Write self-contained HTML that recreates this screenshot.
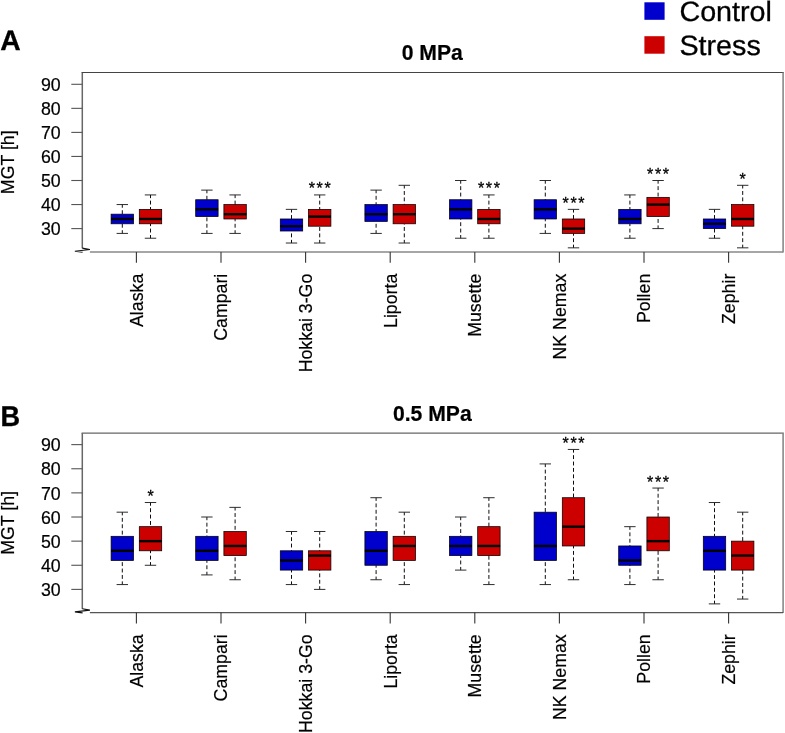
<!DOCTYPE html>
<html lang="en">
<head>
<meta charset="utf-8">
<title>MGT boxplots</title>
<style>
html,body{margin:0;padding:0;background:#fff;}
body{width:785px;height:733px;overflow:hidden;font-family:"Liberation Sans",Arial,sans-serif;}
svg{display:block;}
</style>
</head>
<body>
<svg width="785" height="733" viewBox="0 0 785 733" font-family="'Liberation Sans', Arial, sans-serif" fill="#000">
<rect width="785" height="733" fill="#fff"/>
<rect x="644.4" y="2.3" width="20.2" height="17.5" fill="#0000cd"/>
<rect x="644.4" y="36.2" width="20.2" height="17.5" fill="#cd0000"/>
<text transform="translate(679.4 21.4) scale(1.025 1)" font-size="28" stroke="#000" stroke-width="0.3" text-rendering="geometricPrecision">Control</text>
<text transform="translate(679.4 55.2) scale(1.025 1)" font-size="28" stroke="#000" stroke-width="0.3" text-rendering="geometricPrecision">Stress</text>
<path d="M82.3 248.3V72.5" fill="none" stroke="#666" stroke-width="1.5"/>
<path d="M81.6 72.5H783.8" fill="none" stroke="#444" stroke-width="1.2"/>
<path d="M783.1 72.5V252.5" fill="none" stroke="#888" stroke-width="1.6"/>
<path d="M783.1 252H89.9" fill="none" stroke="#888" stroke-width="1.6"/>
<path d="M82.3 248.1L89.9 249.5L74.9 251.3L82.6 252.3" fill="none" stroke="#111" stroke-width="1.1" stroke-linejoin="miter"/>
<line x1="71.3" x2="82.3" y1="228.6" y2="228.6" stroke="#555" stroke-width="1.1"/>
<text x="60.7" y="235.3" text-anchor="end" font-size="17.75" stroke="#000" stroke-width="0.2">30</text>
<line x1="71.3" x2="82.3" y1="204.55" y2="204.55" stroke="#555" stroke-width="1.1"/>
<text x="60.7" y="211.25" text-anchor="end" font-size="17.75" stroke="#000" stroke-width="0.2">40</text>
<line x1="71.3" x2="82.3" y1="180.5" y2="180.5" stroke="#555" stroke-width="1.1"/>
<text x="60.7" y="187.2" text-anchor="end" font-size="17.75" stroke="#000" stroke-width="0.2">50</text>
<line x1="71.3" x2="82.3" y1="156.45" y2="156.45" stroke="#555" stroke-width="1.1"/>
<text x="60.7" y="163.15" text-anchor="end" font-size="17.75" stroke="#000" stroke-width="0.2">60</text>
<line x1="71.3" x2="82.3" y1="132.4" y2="132.4" stroke="#555" stroke-width="1.1"/>
<text x="60.7" y="139.1" text-anchor="end" font-size="17.75" stroke="#000" stroke-width="0.2">70</text>
<line x1="71.3" x2="82.3" y1="108.35" y2="108.35" stroke="#555" stroke-width="1.1"/>
<text x="60.7" y="115.05" text-anchor="end" font-size="17.75" stroke="#000" stroke-width="0.2">80</text>
<line x1="71.3" x2="82.3" y1="84.3" y2="84.3" stroke="#555" stroke-width="1.1"/>
<text x="60.7" y="91" text-anchor="end" font-size="17.75" stroke="#000" stroke-width="0.2">90</text>
<text transform="translate(14.0 162.25) rotate(-90)" text-anchor="middle" font-size="17.75" stroke="#000" stroke-width="0.2">MGT [h]</text>
<text x="432.3" y="60.4" text-anchor="middle" font-size="21.15" font-weight="bold" stroke="#000" stroke-width="0.2">0 MPa</text>
<text transform="translate(0.2 50) scale(1.0 1)" font-size="28.3" font-weight="bold" stroke="#000" stroke-width="0.3" text-rendering="geometricPrecision">A</text>
<line x1="136.4" x2="136.4" y1="252" y2="262.8" stroke="#333" stroke-width="1.1"/>
<text transform="translate(142.8 273.7) rotate(-90)" text-anchor="end" font-size="17.75" stroke="#000" stroke-width="0.2">Alaska</text>
<line x1="221" x2="221" y1="252" y2="262.8" stroke="#333" stroke-width="1.1"/>
<text transform="translate(227.4 273.7) rotate(-90)" text-anchor="end" font-size="17.75" stroke="#000" stroke-width="0.2">Campari</text>
<line x1="305.6" x2="305.6" y1="252" y2="262.8" stroke="#333" stroke-width="1.1"/>
<text transform="translate(312 273.7) rotate(-90)" text-anchor="end" font-size="17.75" stroke="#000" stroke-width="0.2">Hokkai 3-Go</text>
<line x1="390.2" x2="390.2" y1="252" y2="262.8" stroke="#333" stroke-width="1.1"/>
<text transform="translate(396.6 273.7) rotate(-90)" text-anchor="end" font-size="17.75" stroke="#000" stroke-width="0.2">Liporta</text>
<line x1="474.8" x2="474.8" y1="252" y2="262.8" stroke="#333" stroke-width="1.1"/>
<text transform="translate(481.2 273.7) rotate(-90)" text-anchor="end" font-size="17.75" stroke="#000" stroke-width="0.2">Musette</text>
<line x1="559.4" x2="559.4" y1="252" y2="262.8" stroke="#333" stroke-width="1.1"/>
<text transform="translate(565.8 273.7) rotate(-90)" text-anchor="end" font-size="17.75" stroke="#000" stroke-width="0.2">NK Nemax</text>
<line x1="644" x2="644" y1="252" y2="262.8" stroke="#333" stroke-width="1.1"/>
<text transform="translate(650.4 273.7) rotate(-90)" text-anchor="end" font-size="17.75" stroke="#000" stroke-width="0.2">Pollen</text>
<line x1="728.6" x2="728.6" y1="252" y2="262.8" stroke="#333" stroke-width="1.1"/>
<text transform="translate(735 273.7) rotate(-90)" text-anchor="end" font-size="17.75" stroke="#000" stroke-width="0.2">Zephir</text>
<path d="M122.3 204.55V214.17M122.3 233.41V223.79" stroke="#000" stroke-width="0.95" stroke-dasharray="3.9 2.5" stroke-dashoffset="0.7" fill="none"/>
<path d="M116.6 204.55h11.4M116.6 233.41h11.4" stroke="#222" stroke-width="0.95" fill="none"/>
<rect x="111.1" y="214.17" width="22.4" height="9.62" fill="#0000cd" stroke="#000" stroke-width="0.75"/>
<line x1="111.1" x2="133.5" y1="218.98" y2="218.98" stroke="#000" stroke-width="2.4"/>
<path d="M150.5 194.93V209.36M150.5 238.22V223.79" stroke="#000" stroke-width="0.95" stroke-dasharray="3.9 2.5" stroke-dashoffset="0.7" fill="none"/>
<path d="M144.8 194.93h11.4M144.8 238.22h11.4" stroke="#222" stroke-width="0.95" fill="none"/>
<rect x="139.3" y="209.36" width="22.4" height="14.43" fill="#cd0000" stroke="#000" stroke-width="0.75"/>
<line x1="139.3" x2="161.7" y1="218.98" y2="218.98" stroke="#000" stroke-width="2.4"/>
<path d="M206.9 190.12V199.74M206.9 233.41V216.57" stroke="#000" stroke-width="0.95" stroke-dasharray="3.9 2.5" stroke-dashoffset="0.7" fill="none"/>
<path d="M201.2 190.12h11.4M201.2 233.41h11.4" stroke="#222" stroke-width="0.95" fill="none"/>
<rect x="195.7" y="199.74" width="22.4" height="16.83" fill="#0000cd" stroke="#000" stroke-width="0.75"/>
<line x1="195.7" x2="218.1" y1="209.36" y2="209.36" stroke="#000" stroke-width="2.4"/>
<path d="M235.1 194.93V204.55M235.1 233.41V218.98" stroke="#000" stroke-width="0.95" stroke-dasharray="3.9 2.5" stroke-dashoffset="0.7" fill="none"/>
<path d="M229.4 194.93h11.4M229.4 233.41h11.4" stroke="#222" stroke-width="0.95" fill="none"/>
<rect x="223.9" y="204.55" width="22.4" height="14.43" fill="#cd0000" stroke="#000" stroke-width="0.75"/>
<line x1="223.9" x2="246.3" y1="214.17" y2="214.17" stroke="#000" stroke-width="2.4"/>
<path d="M291.5 209.36V218.98M291.5 243.03V231" stroke="#000" stroke-width="0.95" stroke-dasharray="3.9 2.5" stroke-dashoffset="0.7" fill="none"/>
<path d="M285.8 209.36h11.4M285.8 243.03h11.4" stroke="#222" stroke-width="0.95" fill="none"/>
<rect x="280.3" y="218.98" width="22.4" height="12.03" fill="#0000cd" stroke="#000" stroke-width="0.75"/>
<line x1="280.3" x2="302.7" y1="226.19" y2="226.19" stroke="#000" stroke-width="2.4"/>
<path d="M319.7 194.93V209.36M319.7 243.03V226.19" stroke="#000" stroke-width="0.95" stroke-dasharray="3.9 2.5" stroke-dashoffset="0.7" fill="none"/>
<path d="M314 194.93h11.4M314 243.03h11.4" stroke="#222" stroke-width="0.95" fill="none"/>
<rect x="308.5" y="209.36" width="22.4" height="16.84" fill="#cd0000" stroke="#000" stroke-width="0.75"/>
<line x1="308.5" x2="330.9" y1="216.57" y2="216.57" stroke="#000" stroke-width="2.4"/>
<text x="311.83 319.7 327.57" y="194.38" text-anchor="middle" font-size="16.0" stroke="#000" stroke-width="0.3">***</text>
<path d="M376.1 190.12V204.55M376.1 233.41V221.38" stroke="#000" stroke-width="0.95" stroke-dasharray="3.9 2.5" stroke-dashoffset="0.7" fill="none"/>
<path d="M370.4 190.12h11.4M370.4 233.41h11.4" stroke="#222" stroke-width="0.95" fill="none"/>
<rect x="364.9" y="204.55" width="22.4" height="16.83" fill="#0000cd" stroke="#000" stroke-width="0.75"/>
<line x1="364.9" x2="387.3" y1="214.17" y2="214.17" stroke="#000" stroke-width="2.4"/>
<path d="M404.3 185.31V204.55M404.3 243.03V223.79" stroke="#000" stroke-width="0.95" stroke-dasharray="3.9 2.5" stroke-dashoffset="0.7" fill="none"/>
<path d="M398.6 185.31h11.4M398.6 243.03h11.4" stroke="#222" stroke-width="0.95" fill="none"/>
<rect x="393.1" y="204.55" width="22.4" height="19.24" fill="#cd0000" stroke="#000" stroke-width="0.75"/>
<line x1="393.1" x2="415.5" y1="214.17" y2="214.17" stroke="#000" stroke-width="2.4"/>
<path d="M460.7 180.5V199.74M460.7 238.22V218.98" stroke="#000" stroke-width="0.95" stroke-dasharray="3.9 2.5" stroke-dashoffset="0.7" fill="none"/>
<path d="M455 180.5h11.4M455 238.22h11.4" stroke="#222" stroke-width="0.95" fill="none"/>
<rect x="449.5" y="199.74" width="22.4" height="19.24" fill="#0000cd" stroke="#000" stroke-width="0.75"/>
<line x1="449.5" x2="471.9" y1="209.36" y2="209.36" stroke="#000" stroke-width="2.4"/>
<path d="M488.9 194.93V209.36M488.9 238.22V223.79" stroke="#000" stroke-width="0.95" stroke-dasharray="3.9 2.5" stroke-dashoffset="0.7" fill="none"/>
<path d="M483.2 194.93h11.4M483.2 238.22h11.4" stroke="#222" stroke-width="0.95" fill="none"/>
<rect x="477.7" y="209.36" width="22.4" height="14.43" fill="#cd0000" stroke="#000" stroke-width="0.75"/>
<line x1="477.7" x2="500.1" y1="218.98" y2="218.98" stroke="#000" stroke-width="2.4"/>
<text x="481.03 488.9 496.77" y="194.38" text-anchor="middle" font-size="16.0" stroke="#000" stroke-width="0.3">***</text>
<path d="M545.3 180.5V199.74M545.3 233.41V218.98" stroke="#000" stroke-width="0.95" stroke-dasharray="3.9 2.5" stroke-dashoffset="0.7" fill="none"/>
<path d="M539.6 180.5h11.4M539.6 233.41h11.4" stroke="#222" stroke-width="0.95" fill="none"/>
<rect x="534.1" y="199.74" width="22.4" height="19.24" fill="#0000cd" stroke="#000" stroke-width="0.75"/>
<line x1="534.1" x2="556.5" y1="209.36" y2="209.36" stroke="#000" stroke-width="2.4"/>
<path d="M573.5 209.36V218.98M573.5 247.84V233.41" stroke="#000" stroke-width="0.95" stroke-dasharray="3.9 2.5" stroke-dashoffset="0.7" fill="none"/>
<path d="M567.8 209.36h11.4M567.8 247.84h11.4" stroke="#222" stroke-width="0.95" fill="none"/>
<rect x="562.3" y="218.98" width="22.4" height="14.43" fill="#cd0000" stroke="#000" stroke-width="0.75"/>
<line x1="562.3" x2="584.7" y1="228.6" y2="228.6" stroke="#000" stroke-width="2.4"/>
<text x="565.63 573.5 581.37" y="208.81" text-anchor="middle" font-size="16.0" stroke="#000" stroke-width="0.3">***</text>
<path d="M629.9 194.93V209.36M629.9 238.22V223.79" stroke="#000" stroke-width="0.95" stroke-dasharray="3.9 2.5" stroke-dashoffset="0.7" fill="none"/>
<path d="M624.2 194.93h11.4M624.2 238.22h11.4" stroke="#222" stroke-width="0.95" fill="none"/>
<rect x="618.7" y="209.36" width="22.4" height="14.43" fill="#0000cd" stroke="#000" stroke-width="0.75"/>
<line x1="618.7" x2="641.1" y1="218.98" y2="218.98" stroke="#000" stroke-width="2.4"/>
<path d="M658.1 180.5V197.34M658.1 228.6V216.57" stroke="#000" stroke-width="0.95" stroke-dasharray="3.9 2.5" stroke-dashoffset="0.7" fill="none"/>
<path d="M652.4 180.5h11.4M652.4 228.6h11.4" stroke="#222" stroke-width="0.95" fill="none"/>
<rect x="646.9" y="197.34" width="22.4" height="19.24" fill="#cd0000" stroke="#000" stroke-width="0.75"/>
<line x1="646.9" x2="669.3" y1="204.55" y2="204.55" stroke="#000" stroke-width="2.4"/>
<text x="650.23 658.1 665.97" y="179.95" text-anchor="middle" font-size="16.0" stroke="#000" stroke-width="0.3">***</text>
<path d="M714.5 209.36V218.98M714.5 238.22V228.6" stroke="#000" stroke-width="0.95" stroke-dasharray="3.9 2.5" stroke-dashoffset="0.7" fill="none"/>
<path d="M708.8 209.36h11.4M708.8 238.22h11.4" stroke="#222" stroke-width="0.95" fill="none"/>
<rect x="703.3" y="218.98" width="22.4" height="9.62" fill="#0000cd" stroke="#000" stroke-width="0.75"/>
<line x1="703.3" x2="725.7" y1="223.79" y2="223.79" stroke="#000" stroke-width="2.4"/>
<path d="M742.7 185.31V204.55M742.7 247.84V226.19" stroke="#000" stroke-width="0.95" stroke-dasharray="3.9 2.5" stroke-dashoffset="0.7" fill="none"/>
<path d="M737 185.31h11.4M737 247.84h11.4" stroke="#222" stroke-width="0.95" fill="none"/>
<rect x="731.5" y="204.55" width="22.4" height="21.64" fill="#cd0000" stroke="#000" stroke-width="0.75"/>
<line x1="731.5" x2="753.9" y1="218.98" y2="218.98" stroke="#000" stroke-width="2.4"/>
<text x="742.7" y="184.76" text-anchor="middle" font-size="16.0" stroke="#000" stroke-width="0.3">*</text>
<path d="M82.3 608.9V433.1" fill="none" stroke="#666" stroke-width="1.5"/>
<path d="M81.6 433.1H783.8" fill="none" stroke="#666" stroke-width="1.4"/>
<path d="M783.1 433.1V613.1" fill="none" stroke="#888" stroke-width="1.6"/>
<path d="M783.1 612.6H89.9" fill="none" stroke="#555" stroke-width="1.15"/>
<path d="M82.3 608.7L89.9 610.1L74.9 611.9L82.6 612.9" fill="none" stroke="#111" stroke-width="1.1" stroke-linejoin="miter"/>
<line x1="71.3" x2="82.3" y1="589.4" y2="589.4" stroke="#555" stroke-width="1.1"/>
<text x="60.7" y="596.1" text-anchor="end" font-size="17.75" stroke="#000" stroke-width="0.2">30</text>
<line x1="71.3" x2="82.3" y1="565.27" y2="565.27" stroke="#555" stroke-width="1.1"/>
<text x="60.7" y="571.97" text-anchor="end" font-size="17.75" stroke="#000" stroke-width="0.2">40</text>
<line x1="71.3" x2="82.3" y1="541.14" y2="541.14" stroke="#555" stroke-width="1.1"/>
<text x="60.7" y="547.84" text-anchor="end" font-size="17.75" stroke="#000" stroke-width="0.2">50</text>
<line x1="71.3" x2="82.3" y1="517.01" y2="517.01" stroke="#555" stroke-width="1.1"/>
<text x="60.7" y="523.71" text-anchor="end" font-size="17.75" stroke="#000" stroke-width="0.2">60</text>
<line x1="71.3" x2="82.3" y1="492.88" y2="492.88" stroke="#555" stroke-width="1.1"/>
<text x="60.7" y="499.58" text-anchor="end" font-size="17.75" stroke="#000" stroke-width="0.2">70</text>
<line x1="71.3" x2="82.3" y1="468.75" y2="468.75" stroke="#555" stroke-width="1.1"/>
<text x="60.7" y="475.45" text-anchor="end" font-size="17.75" stroke="#000" stroke-width="0.2">80</text>
<line x1="71.3" x2="82.3" y1="444.62" y2="444.62" stroke="#555" stroke-width="1.1"/>
<text x="60.7" y="451.32" text-anchor="end" font-size="17.75" stroke="#000" stroke-width="0.2">90</text>
<text transform="translate(14.0 522.85) rotate(-90)" text-anchor="middle" font-size="17.75" stroke="#000" stroke-width="0.2">MGT [h]</text>
<text x="432.3" y="421" text-anchor="middle" font-size="21.15" font-weight="bold" stroke="#000" stroke-width="0.2">0.5 MPa</text>
<text transform="translate(0.6 425.6) scale(0.95 1)" font-size="28.6" font-weight="bold" stroke="#000" stroke-width="0.3" text-rendering="geometricPrecision">B</text>
<line x1="136.4" x2="136.4" y1="612.6" y2="623.4" stroke="#333" stroke-width="1.1"/>
<text transform="translate(142.8 634.3) rotate(-90)" text-anchor="end" font-size="17.75" stroke="#000" stroke-width="0.2">Alaska</text>
<line x1="221" x2="221" y1="612.6" y2="623.4" stroke="#333" stroke-width="1.1"/>
<text transform="translate(227.4 634.3) rotate(-90)" text-anchor="end" font-size="17.75" stroke="#000" stroke-width="0.2">Campari</text>
<line x1="305.6" x2="305.6" y1="612.6" y2="623.4" stroke="#333" stroke-width="1.1"/>
<text transform="translate(312 634.3) rotate(-90)" text-anchor="end" font-size="17.75" stroke="#000" stroke-width="0.2">Hokkai 3-Go</text>
<line x1="390.2" x2="390.2" y1="612.6" y2="623.4" stroke="#333" stroke-width="1.1"/>
<text transform="translate(396.6 634.3) rotate(-90)" text-anchor="end" font-size="17.75" stroke="#000" stroke-width="0.2">Liporta</text>
<line x1="474.8" x2="474.8" y1="612.6" y2="623.4" stroke="#333" stroke-width="1.1"/>
<text transform="translate(481.2 634.3) rotate(-90)" text-anchor="end" font-size="17.75" stroke="#000" stroke-width="0.2">Musette</text>
<line x1="559.4" x2="559.4" y1="612.6" y2="623.4" stroke="#333" stroke-width="1.1"/>
<text transform="translate(565.8 634.3) rotate(-90)" text-anchor="end" font-size="17.75" stroke="#000" stroke-width="0.2">NK Nemax</text>
<line x1="644" x2="644" y1="612.6" y2="623.4" stroke="#333" stroke-width="1.1"/>
<text transform="translate(650.4 634.3) rotate(-90)" text-anchor="end" font-size="17.75" stroke="#000" stroke-width="0.2">Pollen</text>
<line x1="728.6" x2="728.6" y1="612.6" y2="623.4" stroke="#333" stroke-width="1.1"/>
<text transform="translate(735 634.3) rotate(-90)" text-anchor="end" font-size="17.75" stroke="#000" stroke-width="0.2">Zephir</text>
<path d="M122.3 512.18V536.31M122.3 584.57V560.44" stroke="#000" stroke-width="0.95" stroke-dasharray="3.9 2.5" stroke-dashoffset="0.7" fill="none"/>
<path d="M116.6 512.18h11.4M116.6 584.57h11.4" stroke="#222" stroke-width="0.95" fill="none"/>
<rect x="111.1" y="536.31" width="22.4" height="24.13" fill="#0000cd" stroke="#000" stroke-width="0.75"/>
<line x1="111.1" x2="133.5" y1="550.79" y2="550.79" stroke="#000" stroke-width="2.4"/>
<path d="M150.5 502.53V526.66M150.5 565.27V550.79" stroke="#000" stroke-width="0.95" stroke-dasharray="3.9 2.5" stroke-dashoffset="0.7" fill="none"/>
<path d="M144.8 502.53h11.4M144.8 565.27h11.4" stroke="#222" stroke-width="0.95" fill="none"/>
<rect x="139.3" y="526.66" width="22.4" height="24.13" fill="#cd0000" stroke="#000" stroke-width="0.75"/>
<line x1="139.3" x2="161.7" y1="541.14" y2="541.14" stroke="#000" stroke-width="2.4"/>
<text x="150.5" y="501.98" text-anchor="middle" font-size="16.0" stroke="#000" stroke-width="0.3">*</text>
<path d="M206.9 517.01V536.31M206.9 574.92V560.44" stroke="#000" stroke-width="0.95" stroke-dasharray="3.9 2.5" stroke-dashoffset="0.7" fill="none"/>
<path d="M201.2 517.01h11.4M201.2 574.92h11.4" stroke="#222" stroke-width="0.95" fill="none"/>
<rect x="195.7" y="536.31" width="22.4" height="24.13" fill="#0000cd" stroke="#000" stroke-width="0.75"/>
<line x1="195.7" x2="218.1" y1="550.79" y2="550.79" stroke="#000" stroke-width="2.4"/>
<path d="M235.1 507.36V531.49M235.1 579.75V555.62" stroke="#000" stroke-width="0.95" stroke-dasharray="3.9 2.5" stroke-dashoffset="0.7" fill="none"/>
<path d="M229.4 507.36h11.4M229.4 579.75h11.4" stroke="#222" stroke-width="0.95" fill="none"/>
<rect x="223.9" y="531.49" width="22.4" height="24.13" fill="#cd0000" stroke="#000" stroke-width="0.75"/>
<line x1="223.9" x2="246.3" y1="545.97" y2="545.97" stroke="#000" stroke-width="2.4"/>
<path d="M291.5 531.49V550.79M291.5 584.57V570.1" stroke="#000" stroke-width="0.95" stroke-dasharray="3.9 2.5" stroke-dashoffset="0.7" fill="none"/>
<path d="M285.8 531.49h11.4M285.8 584.57h11.4" stroke="#222" stroke-width="0.95" fill="none"/>
<rect x="280.3" y="550.79" width="22.4" height="19.3" fill="#0000cd" stroke="#000" stroke-width="0.75"/>
<line x1="280.3" x2="302.7" y1="560.44" y2="560.44" stroke="#000" stroke-width="2.4"/>
<path d="M319.7 531.49V550.79M319.7 589.4V570.1" stroke="#000" stroke-width="0.95" stroke-dasharray="3.9 2.5" stroke-dashoffset="0.7" fill="none"/>
<path d="M314 531.49h11.4M314 589.4h11.4" stroke="#222" stroke-width="0.95" fill="none"/>
<rect x="308.5" y="550.79" width="22.4" height="19.3" fill="#cd0000" stroke="#000" stroke-width="0.75"/>
<line x1="308.5" x2="330.9" y1="555.62" y2="555.62" stroke="#000" stroke-width="2.4"/>
<path d="M376.1 497.71V531.49M376.1 579.75V565.27" stroke="#000" stroke-width="0.95" stroke-dasharray="3.9 2.5" stroke-dashoffset="0.7" fill="none"/>
<path d="M370.4 497.71h11.4M370.4 579.75h11.4" stroke="#222" stroke-width="0.95" fill="none"/>
<rect x="364.9" y="531.49" width="22.4" height="33.78" fill="#0000cd" stroke="#000" stroke-width="0.75"/>
<line x1="364.9" x2="387.3" y1="550.79" y2="550.79" stroke="#000" stroke-width="2.4"/>
<path d="M404.3 512.18V536.31M404.3 584.57V560.44" stroke="#000" stroke-width="0.95" stroke-dasharray="3.9 2.5" stroke-dashoffset="0.7" fill="none"/>
<path d="M398.6 512.18h11.4M398.6 584.57h11.4" stroke="#222" stroke-width="0.95" fill="none"/>
<rect x="393.1" y="536.31" width="22.4" height="24.13" fill="#cd0000" stroke="#000" stroke-width="0.75"/>
<line x1="393.1" x2="415.5" y1="545.97" y2="545.97" stroke="#000" stroke-width="2.4"/>
<path d="M460.7 517.01V536.31M460.7 570.1V555.62" stroke="#000" stroke-width="0.95" stroke-dasharray="3.9 2.5" stroke-dashoffset="0.7" fill="none"/>
<path d="M455 517.01h11.4M455 570.1h11.4" stroke="#222" stroke-width="0.95" fill="none"/>
<rect x="449.5" y="536.31" width="22.4" height="19.3" fill="#0000cd" stroke="#000" stroke-width="0.75"/>
<line x1="449.5" x2="471.9" y1="545.97" y2="545.97" stroke="#000" stroke-width="2.4"/>
<path d="M488.9 497.71V526.66M488.9 584.57V555.62" stroke="#000" stroke-width="0.95" stroke-dasharray="3.9 2.5" stroke-dashoffset="0.7" fill="none"/>
<path d="M483.2 497.71h11.4M483.2 584.57h11.4" stroke="#222" stroke-width="0.95" fill="none"/>
<rect x="477.7" y="526.66" width="22.4" height="28.96" fill="#cd0000" stroke="#000" stroke-width="0.75"/>
<line x1="477.7" x2="500.1" y1="545.97" y2="545.97" stroke="#000" stroke-width="2.4"/>
<path d="M545.3 463.92V512.18M545.3 584.57V560.44" stroke="#000" stroke-width="0.95" stroke-dasharray="3.9 2.5" stroke-dashoffset="0.7" fill="none"/>
<path d="M539.6 463.92h11.4M539.6 584.57h11.4" stroke="#222" stroke-width="0.95" fill="none"/>
<rect x="534.1" y="512.18" width="22.4" height="48.26" fill="#0000cd" stroke="#000" stroke-width="0.75"/>
<line x1="534.1" x2="556.5" y1="545.97" y2="545.97" stroke="#000" stroke-width="2.4"/>
<path d="M573.5 449.45V497.71M573.5 579.75V545.97" stroke="#000" stroke-width="0.95" stroke-dasharray="3.9 2.5" stroke-dashoffset="0.7" fill="none"/>
<path d="M567.8 449.45h11.4M567.8 579.75h11.4" stroke="#222" stroke-width="0.95" fill="none"/>
<rect x="562.3" y="497.71" width="22.4" height="48.26" fill="#cd0000" stroke="#000" stroke-width="0.75"/>
<line x1="562.3" x2="584.7" y1="526.66" y2="526.66" stroke="#000" stroke-width="2.4"/>
<text x="565.63 573.5 581.37" y="448.9" text-anchor="middle" font-size="16.0" stroke="#000" stroke-width="0.3">***</text>
<path d="M629.9 526.66V545.97M629.9 584.57V565.27" stroke="#000" stroke-width="0.95" stroke-dasharray="3.9 2.5" stroke-dashoffset="0.7" fill="none"/>
<path d="M624.2 526.66h11.4M624.2 584.57h11.4" stroke="#222" stroke-width="0.95" fill="none"/>
<rect x="618.7" y="545.97" width="22.4" height="19.3" fill="#0000cd" stroke="#000" stroke-width="0.75"/>
<line x1="618.7" x2="641.1" y1="560.44" y2="560.44" stroke="#000" stroke-width="2.4"/>
<path d="M658.1 488.05V517.01M658.1 579.75V550.79" stroke="#000" stroke-width="0.95" stroke-dasharray="3.9 2.5" stroke-dashoffset="0.7" fill="none"/>
<path d="M652.4 488.05h11.4M652.4 579.75h11.4" stroke="#222" stroke-width="0.95" fill="none"/>
<rect x="646.9" y="517.01" width="22.4" height="33.78" fill="#cd0000" stroke="#000" stroke-width="0.75"/>
<line x1="646.9" x2="669.3" y1="541.14" y2="541.14" stroke="#000" stroke-width="2.4"/>
<text x="650.23 658.1 665.97" y="487.5" text-anchor="middle" font-size="16.0" stroke="#000" stroke-width="0.3">***</text>
<path d="M714.5 502.53V536.31M714.5 603.88V570.1" stroke="#000" stroke-width="0.95" stroke-dasharray="3.9 2.5" stroke-dashoffset="0.7" fill="none"/>
<path d="M708.8 502.53h11.4M708.8 603.88h11.4" stroke="#222" stroke-width="0.95" fill="none"/>
<rect x="703.3" y="536.31" width="22.4" height="33.78" fill="#0000cd" stroke="#000" stroke-width="0.75"/>
<line x1="703.3" x2="725.7" y1="550.79" y2="550.79" stroke="#000" stroke-width="2.4"/>
<path d="M742.7 512.18V541.14M742.7 599.05V570.1" stroke="#000" stroke-width="0.95" stroke-dasharray="3.9 2.5" stroke-dashoffset="0.7" fill="none"/>
<path d="M737 512.18h11.4M737 599.05h11.4" stroke="#222" stroke-width="0.95" fill="none"/>
<rect x="731.5" y="541.14" width="22.4" height="28.96" fill="#cd0000" stroke="#000" stroke-width="0.75"/>
<line x1="731.5" x2="753.9" y1="555.62" y2="555.62" stroke="#000" stroke-width="2.4"/>
</svg>
</body>
</html>
